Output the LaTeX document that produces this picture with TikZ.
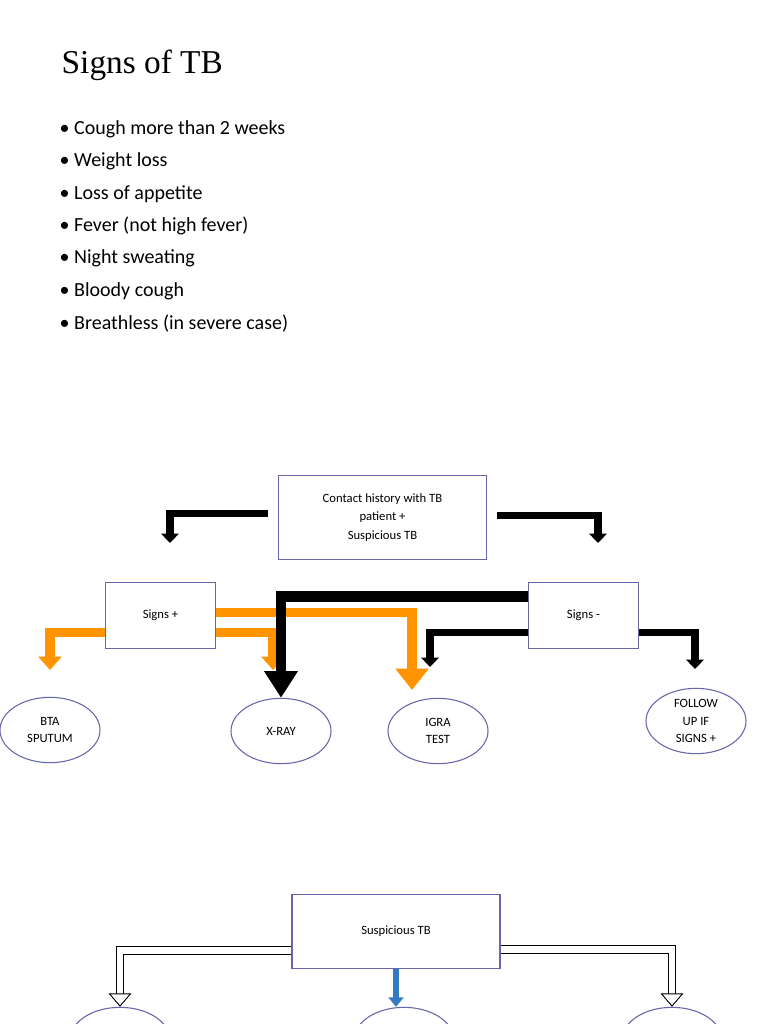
\documentclass[tikz,border=0pt]{standalone}
\usepackage{fontspec}
\setmainfont{Carlito}
\newfontfamily\titlefont{Liberation Serif}
\usetikzlibrary{arrows.meta,shapes.geometric,calc}
\tikzset{
  box/.style={draw=blue!45!black!60, line width=0.8pt, align=center, font=\fontsize{9.5}{14}\selectfont},
  oval/.style={ellipse, draw=blue!45!black!60, line width=0.8pt, minimum width=75pt, minimum height=49pt, inner sep=0pt, align=center, font=\fontsize{9.5}{13}\selectfont},
  blk/.style={line width=5.5pt, -{Triangle[length=7pt,width=13pt]}},
  bigblk/.style={line width=8pt, -{Triangle[length=20pt,width=24pt]}},
  org/.style={draw=orange!80!red!70!yellow, line width=7pt, -{Triangle[length=10pt,width=17pt]}},
  bigorg/.style={draw=orange!80!red!70!yellow, line width=7pt, -{Triangle[length=16pt,width=24pt]}},
  hollow/.style={double=white, double distance=5pt, line width=0.7pt, -{Triangle[open,length=10pt,width=17pt]}},
  bullet/.style={anchor=west, font=\fontsize{15}{18}\selectfont}
}
\begin{document}
\begin{tikzpicture}[x=0.75pt,y=-0.75pt]
\useasboundingbox (0,0) rectangle (768,1024);
% heading and list
\node[anchor=west, font=\titlefont\fontsize{25}{30}\selectfont] (title) at (57,65) {Signs of TB};
\foreach \txt [count=\i] in {Cough more than 2 weeks, Weight loss, Loss of appetite, Fever (not high fever), Night sweating, Bloody cough, Breathless (in severe case)}
  \node[bullet] (b\i) at (55,97+32.3*\i) {\textbullet\ \txt};

% first chart
\node[box, minimum width=156pt, minimum height=63pt] (contact) at (382.5,517.5) {Contact history with TB\\patient +\\Suspicious TB};
\node[box, minimum width=82pt, minimum height=49pt] (sp) at (160.5,615.5) {Signs +};
\node[box, minimum width=82pt, minimum height=49pt] (sm) at (583.5,615.5) {Signs -};
\node[oval] (bta) at (50,730) {BTA\\SPUTUM};
\node[oval] (xray) at (281,731) {X-RAY};
\node[oval] (igra) at (438,731) {IGRA\\TEST};
\node[oval] (follow) at (696,721) {FOLLOW\\UP IF\\SIGNS +};
\coordinate (c1) at (170,543);
\coordinate (c2) at (598,543);
\draw[blk] ($(contact.west)+(-10,-4)$) -| (c1);
\draw[blk] ($(contact.east)+(10,-2)$) -| (c2);
\draw[org] ($(sp.west)+(0,17)$) -| (bta.north |- 0,670);
\draw[org] ($(sp.east)+(0,17)$) -| (273,670);
\draw[bigorg] ($(sp.east)+(0,-3)$) -| (412,690);
\draw[bigblk] ($(sm.west)+(0,-19)$) -| (xray.north);
\draw[blk] ($(sm.west)+(0,17)$) -| (430,667);
\draw[blk] ($(sm.east)+(0,17)$) -| (695,669);

% second chart
\node[box, minimum width=156pt, minimum height=55pt] (sus) at (396,931.5) {Suspicious TB};
\node[oval] (o1) at (120,1040) {};
\node[oval] (o2) at (404,1040) {};
\node[oval] (o3) at (672,1040) {};
\draw[hollow] ($(sus.west)+(0,19)$) -| (o1.north);
\draw[hollow] ($(sus.east)+(0,18)$) -| (o3.north);
\draw[draw=blue!50!cyan!70!black!80, line width=5pt, -{Triangle[length=7pt,width=11pt]}] (sus.south -| 396,0) -- (o2.north -| 396,0);
\end{tikzpicture}
\end{document}
